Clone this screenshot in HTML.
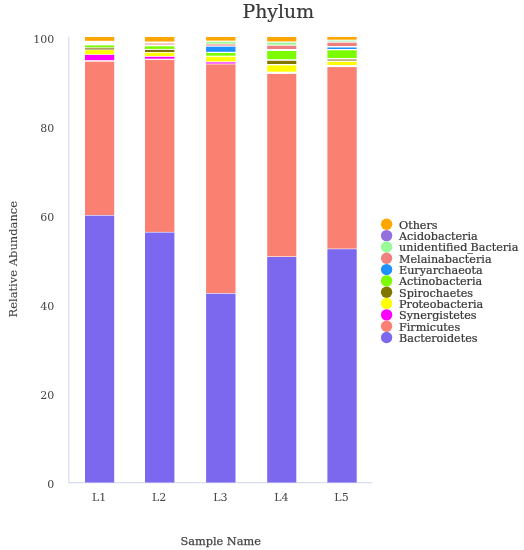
<!DOCTYPE html>
<html lang="en">
<head>
<meta charset="utf-8">
<title>Phylum</title>
<style>
html,body{margin:0;padding:0;background:#ffffff;}
body{width:524px;height:550px;overflow:hidden;}
svg{display:block;}
text{font-family:"DejaVu Serif","Liberation Serif",serif;fill:#383838;stroke:#383838;stroke-width:0.22px;}
.tick{font-size:11px;stroke:none;fill:#444444;}
.leg{font-size:11.2px;}
.title{font-size:17.9px;}
.axt{font-size:11.5px;stroke-width:0.08px;fill:#444444;stroke:#444444;}
</style>
</head>
<body>
<svg width="524" height="550" viewBox="0 0 524 550">
<rect x="0" y="0" width="524" height="550" fill="#ffffff"/>
<line x1="68.8" y1="36.5" x2="68.8" y2="483" stroke="#d8dcf5" stroke-width="1.2"/>
<line x1="68.2" y1="482.7" x2="372.5" y2="482.7" stroke="#d8dcf5" stroke-width="1.2"/>
<g>
<rect x="85.0" y="37.0" width="29.2" height="3.8" fill="#ffa500"/>
<rect x="85.0" y="45.4" width="29.2" height="1.9" fill="#7cfc00"/>
<rect x="85.0" y="47.8" width="29.2" height="1.9" fill="#b0a060"/>
<rect x="85.0" y="50.1" width="29.2" height="4.2" fill="#ffff00"/>
<rect x="85.0" y="54.9" width="29.2" height="5.3" fill="#ff00ff"/>
<rect x="85.0" y="61.7" width="29.2" height="153.3" fill="#fa8072"/>
<rect x="85.0" y="215.6" width="29.2" height="266.9" fill="#7b68ee"/>
</g>
<g>
<rect x="145.0" y="37.0" width="29.4" height="4.5" fill="#ffa500"/>
<rect x="145.0" y="43.3" width="29.4" height="1.5" fill="#f8b4b4"/>
<rect x="145.0" y="46.3" width="29.4" height="2.6" fill="#7cfc00"/>
<rect x="145.0" y="49.9" width="29.4" height="2.1" fill="#857010"/>
<rect x="145.0" y="52.8" width="29.4" height="3.2" fill="#ffff00"/>
<rect x="145.0" y="56.8" width="29.4" height="1.9" fill="#ff00ff"/>
<rect x="145.0" y="59.9" width="29.4" height="172.0" fill="#fa8072"/>
<rect x="145.0" y="232.5" width="29.4" height="250.0" fill="#7b68ee"/>
</g>
<g>
<rect x="206.1" y="37.0" width="29.4" height="3.6" fill="#ffa500"/>
<rect x="206.1" y="41.8" width="29.4" height="1.8" fill="#98fb98"/>
<rect x="206.1" y="44.1" width="29.4" height="1.8" fill="#f8b4b4"/>
<rect x="206.1" y="46.7" width="29.4" height="5.1" fill="#1e90ff"/>
<rect x="206.1" y="53.0" width="29.4" height="2.7" fill="#7cfc00"/>
<rect x="206.1" y="56.8" width="29.4" height="4.6" fill="#ffff00"/>
<rect x="206.1" y="62.0" width="29.4" height="1.9" fill="#ff66ff"/>
<rect x="206.1" y="64.4" width="29.4" height="228.7" fill="#fa8072"/>
<rect x="206.1" y="293.7" width="29.4" height="188.8" fill="#7b68ee"/>
</g>
<g>
<rect x="267.2" y="37.0" width="29.1" height="4.4" fill="#ffa500"/>
<rect x="267.2" y="42.7" width="29.1" height="2.0" fill="#98fb98"/>
<rect x="267.2" y="45.7" width="29.1" height="3.3" fill="#f08080"/>
<rect x="267.2" y="51.0" width="29.1" height="8.2" fill="#7cfc00"/>
<rect x="267.2" y="60.8" width="29.1" height="3.2" fill="#807600"/>
<rect x="267.2" y="65.4" width="29.1" height="6.3" fill="#ffff00"/>
<rect x="267.2" y="73.9" width="29.1" height="182.5" fill="#fa8072"/>
<rect x="267.2" y="257.0" width="29.1" height="225.5" fill="#7b68ee"/>
</g>
<g>
<rect x="327.4" y="37.0" width="29.3" height="2.7" fill="#ffa500"/>
<rect x="327.4" y="40.5" width="29.3" height="1.5" fill="#c4f8d4"/>
<rect x="327.4" y="42.7" width="29.3" height="3.3" fill="#f08080"/>
<rect x="327.4" y="47.5" width="29.3" height="1.5" fill="#1e90ff"/>
<rect x="327.4" y="50.3" width="29.3" height="7.7" fill="#7cfc00"/>
<rect x="327.4" y="59.3" width="29.3" height="1.5" fill="#b0a060"/>
<rect x="327.4" y="61.9" width="29.3" height="3.1" fill="#ffff00"/>
<rect x="327.4" y="67.1" width="29.3" height="181.5" fill="#fa8072"/>
<rect x="327.4" y="249.2" width="29.3" height="233.3" fill="#7b68ee"/>
</g>
<text class="tick" x="54.2" y="487.9" text-anchor="end">0</text>
<text class="tick" x="54.2" y="398.9" text-anchor="end">20</text>
<text class="tick" x="54.2" y="309.9" text-anchor="end">40</text>
<text class="tick" x="54.2" y="220.9" text-anchor="end">60</text>
<text class="tick" x="54.2" y="131.9" text-anchor="end">80</text>
<text class="tick" x="54.2" y="42.9" text-anchor="end">100</text>
<text class="tick" x="99.1" y="501" text-anchor="middle">L1</text>
<text class="tick" x="159.2" y="501" text-anchor="middle">L2</text>
<text class="tick" x="220.3" y="501" text-anchor="middle">L3</text>
<text class="tick" x="281.3" y="501" text-anchor="middle">L4</text>
<text class="tick" x="341.5" y="501" text-anchor="middle">L5</text>
<text class="title" x="242.6" y="17.6" textLength="71.4" lengthAdjust="spacingAndGlyphs">Phylum</text>
<text class="axt" x="220.7" y="544.9" style="font-size:11.3px;stroke-width:0.25px" text-anchor="middle">Sample Name</text>
<text class="axt" transform="translate(17.4,259.2) rotate(-90)" text-anchor="middle">Relative Abundance</text>
<circle cx="386.6" cy="224.30" r="5.7" fill="#ffa500"/>
<text class="leg" x="399" y="228.80">Others</text>
<circle cx="386.6" cy="235.62" r="5.7" fill="#9370db"/>
<text class="leg" x="399" y="240.12">Acidobacteria</text>
<circle cx="386.6" cy="246.94" r="5.7" fill="#98fb98"/>
<text class="leg" x="399" y="251.44">unidentified_<tspan dx="-2.4">Bacteria</tspan></text>
<circle cx="386.6" cy="258.26" r="5.7" fill="#f08080"/>
<text class="leg" x="399" y="262.76">Melainabacteria</text>
<circle cx="386.6" cy="269.58" r="5.7" fill="#1e90ff"/>
<text class="leg" x="399" y="274.08">Euryarchaeota</text>
<circle cx="386.6" cy="280.90" r="5.7" fill="#7cfc00"/>
<text class="leg" x="399" y="285.40">Actinobacteria</text>
<circle cx="386.6" cy="292.22" r="5.7" fill="#807600"/>
<text class="leg" x="399" y="296.72">Spirochaetes</text>
<circle cx="386.6" cy="303.54" r="5.7" fill="#ffff00"/>
<text class="leg" x="399" y="308.04">Proteobacteria</text>
<circle cx="386.6" cy="314.86" r="5.7" fill="#ff00ff"/>
<text class="leg" x="399" y="319.36">Synergistetes</text>
<circle cx="386.6" cy="326.18" r="5.7" fill="#fa8072"/>
<text class="leg" x="399" y="330.68">Firmicutes</text>
<circle cx="386.6" cy="337.50" r="5.7" fill="#7b68ee"/>
<text class="leg" x="399" y="342.00">Bacteroidetes</text>
</svg>
</body>
</html>
